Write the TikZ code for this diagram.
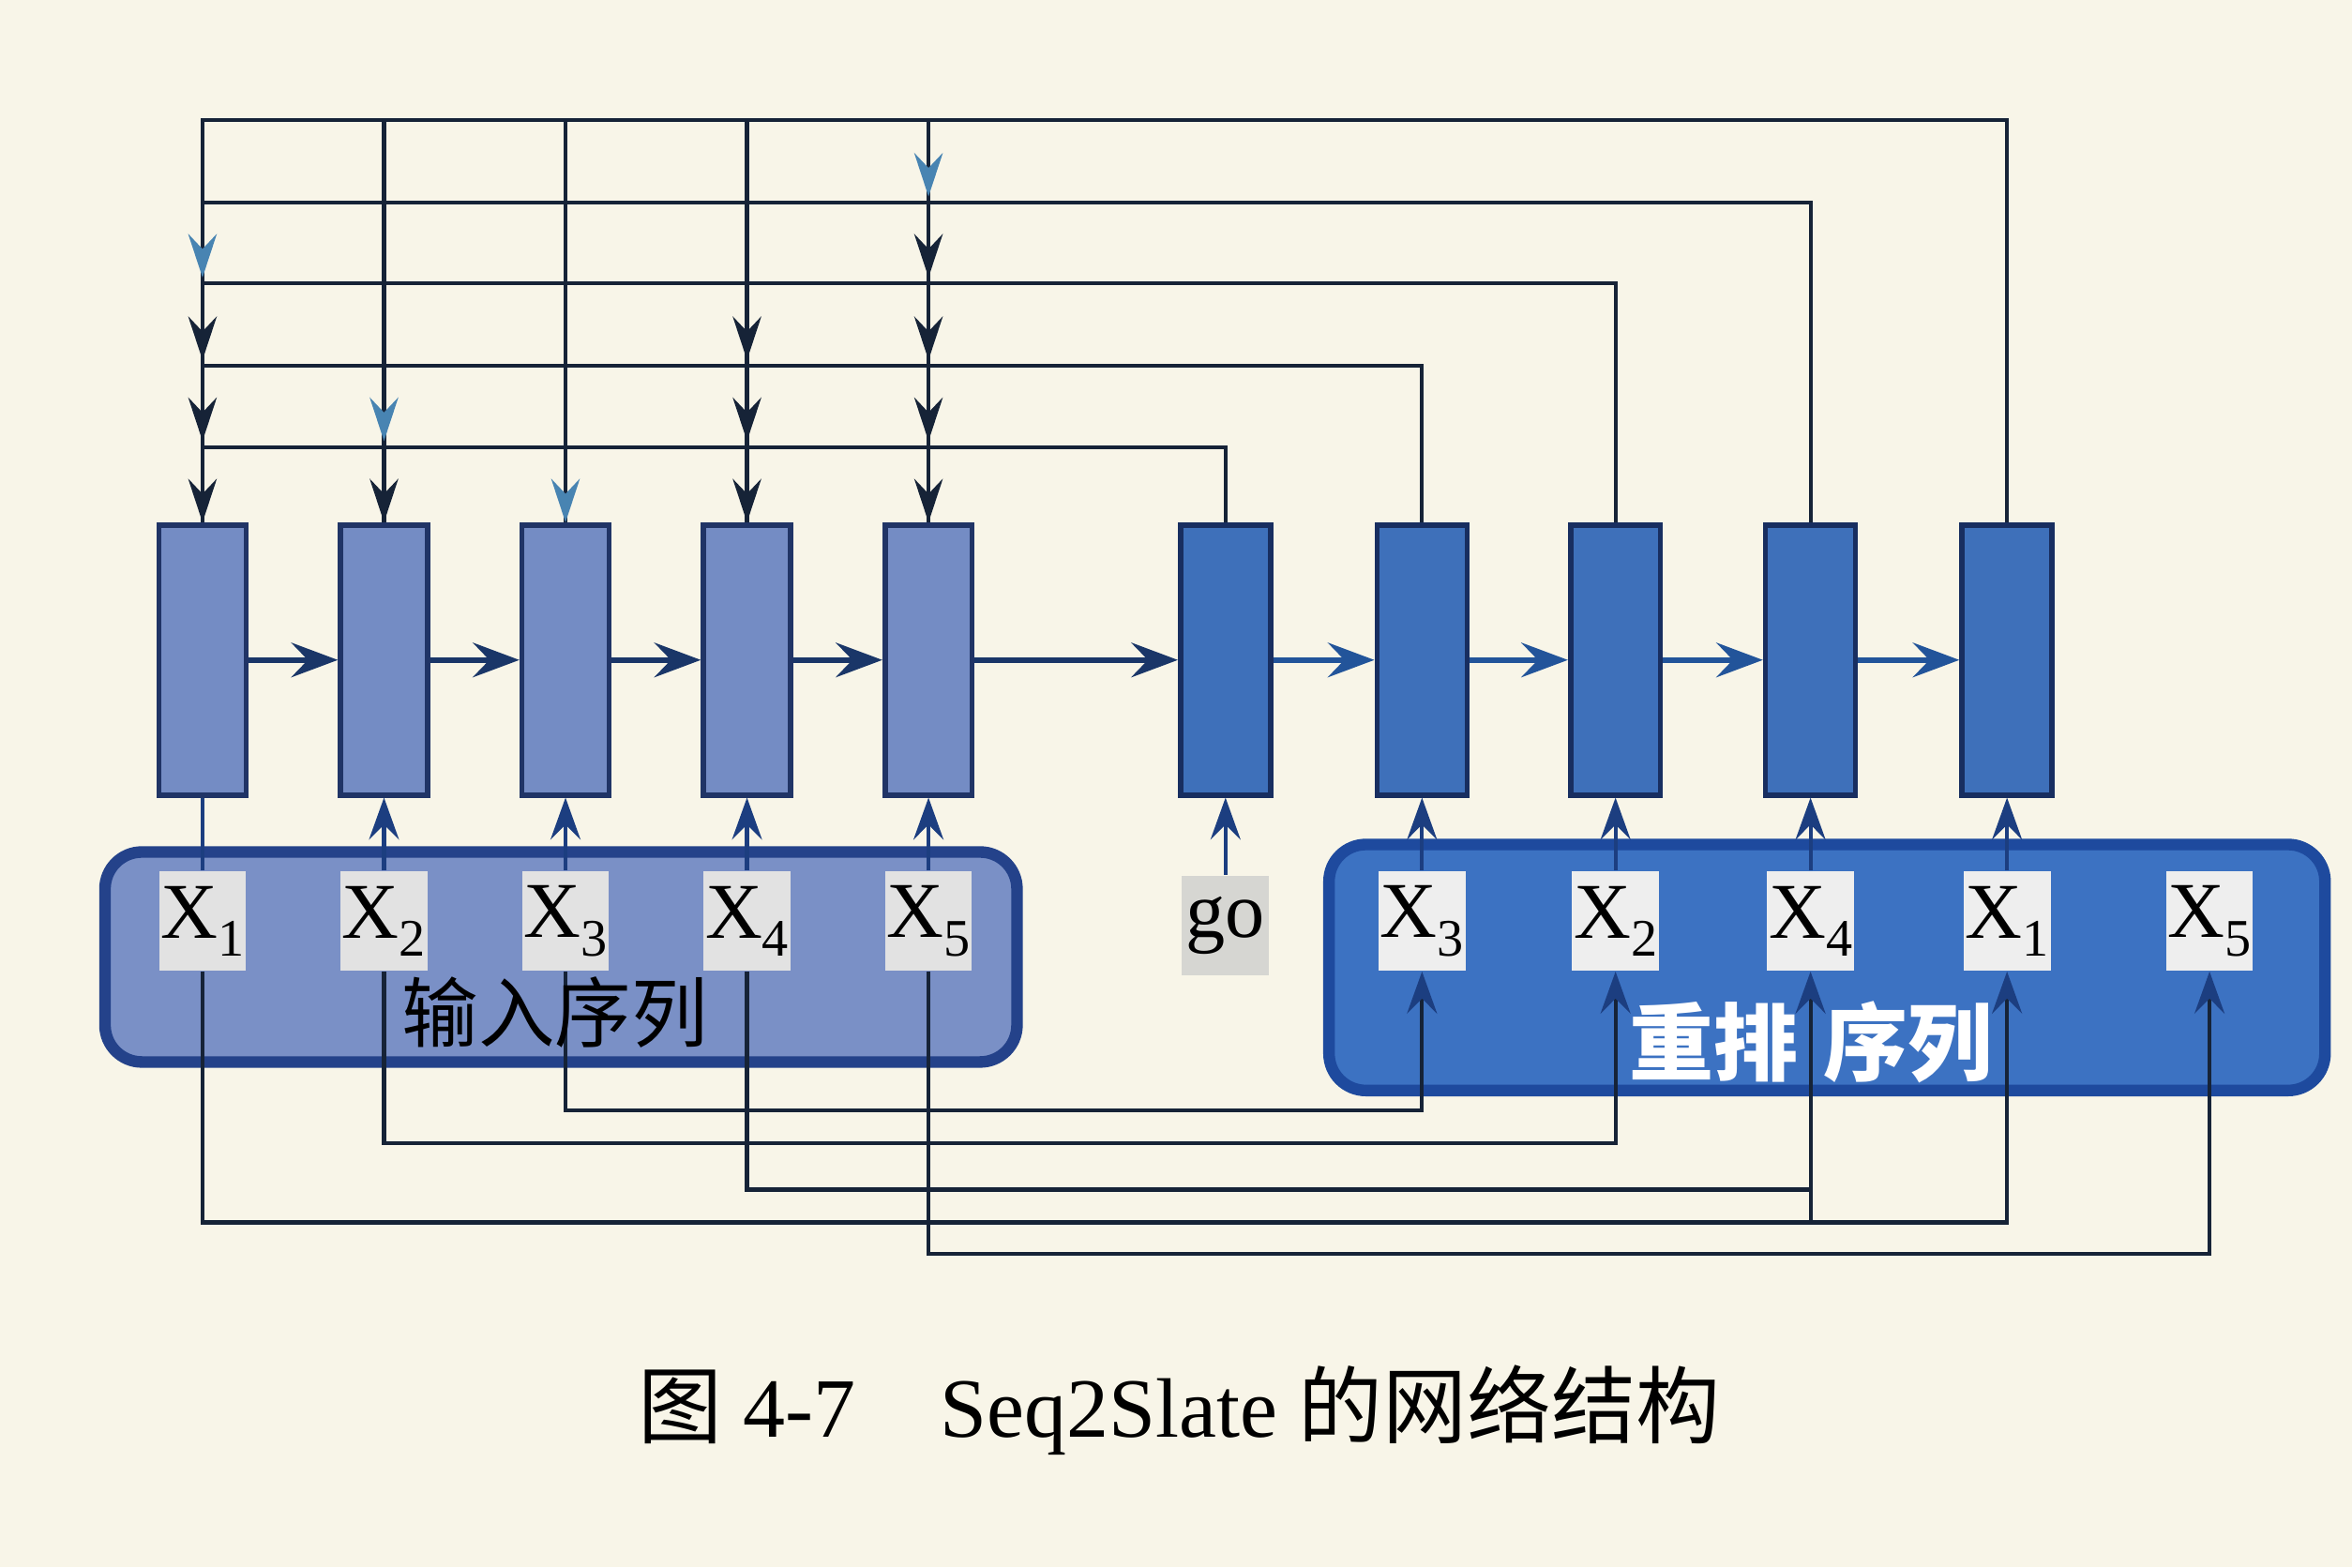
\documentclass[tikz,border=0pt]{standalone}
\usepackage{fontspec}
\setmainfont{Liberation Serif}
\newfontfamily\cjk{Noto Sans CJK SC}
\usetikzlibrary{arrows.meta,positioning,calc}
\definecolor{paper}{RGB}{248,245,232}
\definecolor{encfill}{RGB}{116,140,196}
\definecolor{decfill}{RGB}{62,112,186}
\definecolor{cellline}{RGB}{32,52,102}
\definecolor{decline}{RGB}{24,46,96}
\definecolor{inseqfill}{RGB}{122,144,198}
\definecolor{inseqline}{RGB}{36,66,138}
\definecolor{reseqfill}{RGB}{60,114,194}
\definecolor{reseqline}{RGB}{30,74,158}
\definecolor{tokgrey}{RGB}{226,226,226}
\definecolor{tokwhite}{RGB}{238,238,238}
\definecolor{gogrey}{RGB}{214,214,210}
\definecolor{wirecol}{RGB}{22,35,55}
\definecolor{lightarrow}{RGB}{72,132,178}
\definecolor{hopcol}{RGB}{26,54,104}
\definecolor{hopblue}{RGB}{34,84,154}
\definecolor{risecol}{RGB}{28,62,128}
\newcommand{\itemx}[1]{X\raisebox{-0.5ex}{\fontsize{10}{10}\selectfont #1}}
\tikzset{
  cell/.style={draw=cellline,line width=1pt,minimum width=0.58cm,minimum height=1.80cm,inner sep=0pt},
  enccell/.style={cell,fill=encfill},
  deccell/.style={cell,fill=decfill,draw=decline,minimum width=0.60cm},
  tok/.style={fill=tokgrey,minimum width=0.58cm,minimum height=0.66cm,inner sep=0pt,font=\fontsize{15}{17}\selectfont},
  seqbox/.style={rounded corners=7pt,line width=2.2pt},
  wire/.style={draw=wirecol,line width=0.75pt},
  feed/.style={wire,-{Stealth[length=2.9mm,width=1.9mm,inset=1mm]},shorten >=0.4mm},
  lightfeed/.style={wire,-{Stealth[length=2.9mm,width=1.9mm,inset=1mm,color=lightarrow]},shorten >=0.4mm},
  feedbox/.style={wire,-{Stealth[length=2.9mm,width=1.9mm,inset=1mm]}},
  lightbox/.style={wire,-{Stealth[length=2.9mm,width=1.9mm,inset=1mm,color=lightarrow]}},
  rise/.style={draw=risecol,line width=0.75pt,-{Stealth[length=2.8mm,width=2mm,inset=1mm]}},
  hop/.style={draw=hopcol,line width=1.1pt,-{Stealth[length=3.1mm,width=2.3mm,inset=1.1mm]}},
  hopb/.style={hop,draw=hopblue},
  seqlab/.style={font=\cjk\fontsize{14.5}{16}\selectfont}
}
\begin{document}
\begin{tikzpicture}[x=1cm,y=1cm]
  \useasboundingbox (0,0) rectangle (15.68,10.45);
  \fill[paper] (0,0) rectangle (15.68,10.45);
  % sequence panels
  \node[seqbox,fill=inseqfill,draw=inseqline,minimum width=6.08cm,minimum height=1.40cm] (inseq) at (3.74,4.07) {};
  \node[seqbox,fill=reseqfill,draw=reseqline,minimum width=6.64cm,minimum height=1.64cm] (reseq) at (12.18,4.00) {};
  % encoder / decoder cells
  \node[enccell] (enc1) at (1.35,6.05) {};
  \node[enccell] (enc2) at (2.56,6.05) {};
  \node[enccell] (enc3) at (3.77,6.05) {};
  \node[enccell] (enc4) at (4.98,6.05) {};
  \node[enccell] (enc5) at (6.19,6.05) {};
  \node[deccell] (dec1) at (8.17,6.05) {};
  \node[deccell] (dec2) at (9.48,6.05) {};
  \node[deccell] (dec3) at (10.77,6.05) {};
  \node[deccell] (dec4) at (12.07,6.05) {};
  \node[deccell] (dec5) at (13.38,6.05) {};
  % tokens
  \node[tok] (in1) at (1.35,4.31) {\itemx{1}};
  \node[tok] (in2) at (2.56,4.31) {\itemx{2}};
  \node[tok] (in3) at (3.77,4.31) {\itemx{3}};
  \node[tok] (in4) at (4.98,4.31) {\itemx{4}};
  \node[tok] (in5) at (6.19,4.31) {\itemx{5}};
  \node[tok,fill=gogrey] (go) at (8.17,4.28) {go};
  \node[tok,fill=tokwhite] (out1) at (9.48,4.31) {\itemx{3}};
  \node[tok,fill=tokwhite] (out2) at (10.77,4.31) {\itemx{2}};
  \node[tok,fill=tokwhite] (out3) at (12.07,4.31) {\itemx{4}};
  \node[tok,fill=tokwhite] (out4) at (13.38,4.31) {\itemx{1}};
  \node[tok,fill=tokwhite] (out5) at (14.73,4.31) {\itemx{5}};
  % wire levels
  \coordinate (t1) at (0,9.65);
  \coordinate (t2) at (0,9.10);
  \coordinate (t3) at (0,8.56);
  \coordinate (t4) at (0,8.01);
  \coordinate (t5) at (0,7.47);
  \coordinate (b1) at (0,3.05);
  \coordinate (b2) at (0,2.83);
  \coordinate (b3) at (0,2.52);
  \coordinate (b4) at (0,2.30);
  \coordinate (b5) at (0,2.09);
  % decoder states fed back over the top
  \draw[wire] (dec5.north) |- (enc1 |- t1) -- (enc1.north);
  \draw[wire] (dec4.north) |- (enc1 |- t2);
  \draw[wire] (dec3.north) |- (enc1 |- t3);
  \draw[wire] (dec2.north) |- (enc1 |- t4);
  \draw[wire] (dec1.north) |- (enc1 |- t5);
  \draw[wire] (enc2 |- t1) -- (enc2.north);
  \draw[wire] (enc3 |- t1) -- (enc3.north);
  \draw[wire] (enc4 |- t1) -- (enc4.north);
  \draw[wire] (enc5 |- t1) -- (enc5.north);
  \draw[lightfeed] (enc1 |- t2) -- (enc1 |- t3);
  \draw[feed] (enc1 |- t3) -- (enc1 |- t4);
  \draw[feed] (enc1 |- t4) -- (enc1 |- t5);
  \draw[feedbox] (enc1 |- t5) -- (enc1.north);
  \draw[lightfeed] (enc2 |- t4) -- (enc2 |- t5);
  \draw[feedbox] (enc2 |- t5) -- (enc2.north);
  \draw[lightbox] (enc3 |- t5) -- (enc3.north);
  \draw[feed] (enc4 |- t3) -- (enc4 |- t4);
  \draw[feed] (enc4 |- t4) -- (enc4 |- t5);
  \draw[feedbox] (enc4 |- t5) -- (enc4.north);
  \draw[lightfeed] (enc5 |- t1) -- (enc5 |- t2);
  \draw[feed] (enc5 |- t2) -- (enc5 |- t3);
  \draw[feed] (enc5 |- t3) -- (enc5 |- t4);
  \draw[feed] (enc5 |- t4) -- (enc5 |- t5);
  \draw[feedbox] (enc5 |- t5) -- (enc5.north);
  % recurrent links
  \draw[hop] (enc1.east) -- (enc2.west);
  \draw[hop] (enc2.east) -- (enc3.west);
  \draw[hop] (enc3.east) -- (enc4.west);
  \draw[hop] (enc4.east) -- (enc5.west);
  \draw[hop] (enc5.east) -- (dec1.west);
  \draw[hopb] (dec1.east) -- (dec2.west);
  \draw[hopb] (dec2.east) -- (dec3.west);
  \draw[hopb] (dec3.east) -- (dec4.west);
  \draw[hopb] (dec4.east) -- (dec5.west);
  % token inputs
  \draw[wire,draw=risecol] (in1.north) -- (enc1.south);
  \draw[rise] (in2.north) -- (enc2.south);
  \draw[rise] (in3.north) -- (enc3.south);
  \draw[rise] (in4.north) -- (enc4.south);
  \draw[rise] (in5.north) -- (enc5.south);
  \draw[rise] (go.north) -- (dec1.south);
  \draw[rise] (out1.north) -- (dec2.south);
  \draw[rise] (out2.north) -- (dec3.south);
  \draw[rise] (out3.north) -- (dec4.south);
  \draw[rise] (out4.north) -- (dec5.south);
  % reordering wires underneath
  \draw[wire,-{Stealth[length=2.8mm,width=2mm,inset=1mm,color=risecol]}] (in3.south) |- (out1 |- b1) -- (out1.south);
  \draw[wire,-{Stealth[length=2.8mm,width=2mm,inset=1mm,color=risecol]}] (in2.south) |- (out2 |- b2) -- (out2.south);
  \draw[wire,-{Stealth[length=2.8mm,width=2mm,inset=1mm,color=risecol]}] (in4.south) |- (out3 |- b3) -- (out3.south);
  \draw[wire,-{Stealth[length=2.8mm,width=2mm,inset=1mm,color=risecol]}] (in1.south) |- (out4 |- b4) -- (out4.south);
  \draw[wire,-{Stealth[length=2.8mm,width=2mm,inset=1mm,color=risecol]}] (in5.south) |- (out5 |- b5) -- (out5.south);
  \draw[wire] (out3 |- b3) -- (out3 |- b4);
  % panel titles and caption
  \node[seqlab] (inname) at (3.70,3.70) {输入序列};
  \node[seqlab,font=\cjk\bfseries\fontsize{16}{18}\selectfont,text=white] (rename) at (12.07,3.50) {重排\hspace{0.3em}序列};
  \node[anchor=west,font=\fontsize{16}{19}\selectfont] (cap) at (4.13,1.05) {{\cjk 图} 4-7\quad Seq2Slate {\cjk 的网络结构}};
\end{tikzpicture}
\end{document}
